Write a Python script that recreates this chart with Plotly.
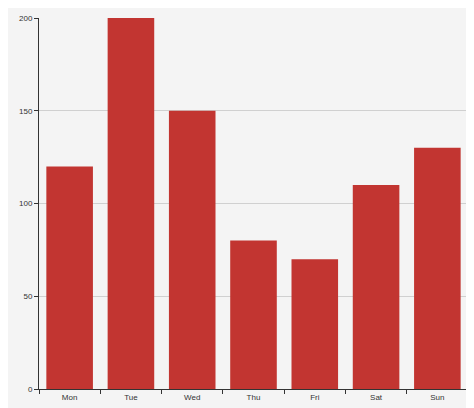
import plotly.graph_objects as go

days = ['Mon', 'Tue', 'Wed', 'Thu', 'Fri', 'Sat', 'Sun']
values = [120, 200, 150, 80, 70, 110, 130]
y_ticks = [0, 50, 100, 150, 200]

fig = go.Figure()
fig.add_trace(go.Bar(x=days, y=values, marker_color='#c23531', marker_line_width=0))

# page body has an 8px margin, so size the figure to fit inside the window
fig.update_layout(
    width=466, height=400,
    margin=dict(l=31, r=6, t=7, b=16),
    paper_bgcolor='#f4f4f4', plot_bgcolor='#f4f4f4',
    bargap=0.24, showlegend=False,
    font=dict(family='Liberation Sans, Arial', size=8, color='#333'),
)
fig.update_xaxes(showline=True, linecolor='#333', linewidth=1,
                 ticks='outside', ticklen=4, tickcolor='#333',
                 tickson='boundaries', showgrid=False)
fig.update_yaxes(range=[0, 200], tickvals=y_ticks, showline=True,
                 linecolor='#333', linewidth=1, ticks='outside', ticklen=4,
                 tickcolor='#333', gridcolor='#d0d0d0', zeroline=False)

fig.write_html("out.html")
